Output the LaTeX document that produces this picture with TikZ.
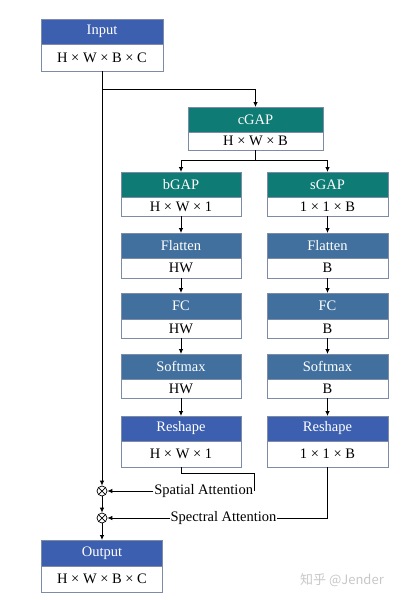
\documentclass[tikz,border=0pt]{standalone}
\usepackage{fontspec}
\setmainfont{Liberation Serif}
\newfontfamily\cjk{Noto Sans CJK SC}
\usetikzlibrary{arrows.meta}
\definecolor{cblue}{HTML}{3D5FAF}
\definecolor{cteal}{HTML}{0E7B74}
\definecolor{csteel}{HTML}{41709E}
\definecolor{cborder}{HTML}{7D8BA6}
\begin{document}
\begin{tikzpicture}[x=1pt,y=-1pt,
  hdr/.style={draw=cborder,line width=0.7pt,text=white,inner sep=0pt,outer sep=0pt,font=\fontsize{14.5}{16}\selectfont},
  low/.style={draw=cborder,line width=0.7pt,fill=white,text=black,inner sep=0pt,outer sep=0pt,font=\fontsize{14.5}{16}\selectfont},
  lbl/.style={fill=white,inner xsep=1pt,inner ysep=0pt,outer sep=0pt,font=\fontsize{14.5}{16}\selectfont},
  arr/.style={line width=0.8pt,-{Latex[length=5pt,width=4.5pt]}},
  ln/.style={line width=0.8pt},
  mult/.style={circle,draw,line width=0.7pt,inner sep=0pt,minimum size=10pt,fill=white,
    path picture={\draw[line width=0.7pt] (path picture bounding box.north west)--(path picture bounding box.south east)
      (path picture bounding box.north east)--(path picture bounding box.south west);}}
]
\useasboundingbox (0,0) rectangle (412,600);

% Input
\node[hdr,fill=cblue,minimum width=122pt,minimum height=25pt] (inH) at (102,31.5) {Input};
\node[low,minimum width=122pt,minimum height=27pt,anchor=north] (inL) at (inH.south) {H × W × B × C};

% cGAP
\node[hdr,fill=cteal,minimum width=135pt,minimum height=25pt] (cgH) at (255.5,119.5) {cGAP};
\node[low,minimum width=135pt,minimum height=18pt,anchor=north] (cgL) at (cgH.south) {H × W × B};

% left column
\node[hdr,fill=cteal,minimum width=120pt,minimum height=25pt] (bgH) at (181,184.5) {bGAP};
\node[low,minimum width=120pt,minimum height=19pt,anchor=north] (bgL) at (bgH.south) {H × W × 1};
\node[hdr,fill=csteel,minimum width=120pt,minimum height=25pt] (flH) at (181,245.5) {Flatten};
\node[low,minimum width=120pt,minimum height=20pt,anchor=north] (flL) at (flH.south) {HW};
\node[hdr,fill=csteel,minimum width=120pt,minimum height=26pt] (fcH) at (181,306) {FC};
\node[low,minimum width=120pt,minimum height=19pt,anchor=north] (fcL) at (fcH.south) {HW};
\node[hdr,fill=csteel,minimum width=120pt,minimum height=25pt] (smH) at (181,366.5) {Softmax};
\node[low,minimum width=120pt,minimum height=19pt,anchor=north] (smL) at (smH.south) {HW};
\node[hdr,fill=cblue,minimum width=120pt,minimum height=25pt] (rsH) at (181,428.5) {Reshape};
\node[low,minimum width=120pt,minimum height=26pt,anchor=north] (rsL) at (rsH.south) {H × W × 1};

% right column
\node[hdr,fill=cteal,minimum width=121pt,minimum height=25pt] (sgH) at (327.5,184.5) {sGAP};
\node[low,minimum width=121pt,minimum height=19pt,anchor=north] (sgL) at (sgH.south) {1 × 1 × B};
\node[hdr,fill=csteel,minimum width=121pt,minimum height=25pt] (fl2H) at (327.5,245.5) {Flatten};
\node[low,minimum width=121pt,minimum height=20pt,anchor=north] (fl2L) at (fl2H.south) {B};
\node[hdr,fill=csteel,minimum width=121pt,minimum height=26pt] (fc2H) at (327.5,306) {FC};
\node[low,minimum width=121pt,minimum height=19pt,anchor=north] (fc2L) at (fc2H.south) {B};
\node[hdr,fill=csteel,minimum width=121pt,minimum height=25pt] (sm2H) at (327.5,366.5) {Softmax};
\node[low,minimum width=121pt,minimum height=19pt,anchor=north] (sm2L) at (sm2H.south) {B};
\node[hdr,fill=cblue,minimum width=121pt,minimum height=25pt] (rs2H) at (327.5,428.5) {Reshape};
\node[low,minimum width=121pt,minimum height=26pt,anchor=north] (rs2L) at (rs2H.south) {1 × 1 × B};

% Output
\node[hdr,fill=cblue,minimum width=121pt,minimum height=26pt] (outH) at (102,553) {Output};
\node[low,minimum width=121pt,minimum height=26pt,anchor=north] (outL) at (outH.south) {H × W × B × C};

% multipliers
\node[mult] (m1) at (102,491) {};
\node[mult] (m2) at (102,518) {};

% labels
\node[lbl,anchor=east] (sa) at (254,491) {Spatial Attention};
\node[lbl] (spe) at (223.5,518) {Spectral Attention};

% connectors
\coordinate (j1) at (102,89);
\coordinate (j2) at (255.5,160);
\coordinate (c1) at (254,473);
\draw[arr] (inL.south) -- (m1.north);
\draw[arr] (j1) -| (cgH.north);
\draw[ln] (cgL.south) -- (j2);
\draw[arr] (j2) -| (bgH.north);
\draw[arr] (j2) -| (sgH.north);
\draw[arr] (bgL.south) -- (flH.north);
\draw[arr] (flL.south) -- (fcH.north);
\draw[arr] (fcL.south) -- (smH.north);
\draw[arr] (smL.south) -- (rsH.north);
\draw[arr] (sgL.south) -- (fl2H.north);
\draw[arr] (fl2L.south) -- (fc2H.north);
\draw[arr] (fc2L.south) -- (sm2H.north);
\draw[arr] (sm2L.south) -- (rs2H.north);
\draw[ln] (rsL.south) |- (c1) |- (sa.east);
\draw[arr] (sa.west) -- (m1.east);
\draw[ln] (rs2L.south) |- (spe.east);
\draw[arr] (spe.west) -- (m2.east);
\draw[arr] (m1.south) -- (m2.north);
\draw[arr] (m2.south) -- (outH.north);

% watermark
\node[text=black!22,font=\cjk\fontsize{13}{15}\selectfont] (wm) at (342,580) {知乎 @Jender};
\end{tikzpicture}
\end{document}
